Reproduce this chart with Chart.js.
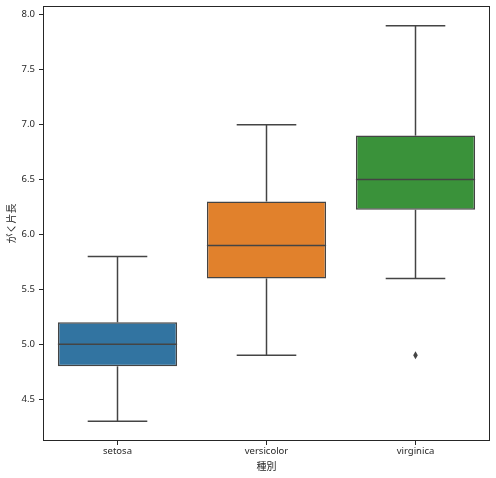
<!DOCTYPE html>
<html>
<head>
<meta charset="utf-8">
<script src="https://cdn.jsdelivr.net/npm/chart.js@4"></script>
<style>
  body { margin: 0; background: #fff; }
</style>
</head>
<body>
<canvas id="myChart" width="496" height="478"></canvas>
<script>
// iris のがく片長、種別ごとの箱ひげ図
const categories = ['setosa', 'versicolor', 'virginica'];
const q1Values = [4.8, 5.6, 6.225];
const medianValues = [5.0, 5.9, 6.5];
const q3Values = [5.2, 6.3, 6.9];
const lowWhiskers = [4.3, 4.9, 5.6];
const highWhiskers = [5.8, 7.0, 7.9];
const outliers = [[], [], [4.9]];
const boxColors = ['#3274a1', '#e1812c', '#3a923a'];
const yTicks = [4.5, 5.0, 5.5, 6.0, 6.5, 7.0, 7.5, 8.0];

const lineColor = '#444444';
const fontFamily = '"Noto Sans", "Noto Sans CJK JP", sans-serif';

// ひげ・中央値・外れ値を描くプラグイン
const boxPlugin = {
    id: 'boxParts',
    afterDatasetsDraw(chart) {
        const ctx = chart.ctx;
        const x = chart.scales.x;
        const y = chart.scales.y;
        const meta = chart.getDatasetMeta(0);
        ctx.save();
        ctx.strokeStyle = lineColor;
        ctx.lineWidth = 1.5;
        categories.forEach((c, i) => {
            const cx = x.getPixelForValue(i);
            const half = meta.data[i].width / 2;
            const capHalf = half / 2;
            const line = (x1, y1, x2, y2) => {
                ctx.beginPath();
                ctx.moveTo(x1, y1);
                ctx.lineTo(x2, y2);
                ctx.stroke();
            };
            // ひげ
            line(cx, y.getPixelForValue(q3Values[i]), cx, y.getPixelForValue(highWhiskers[i]));
            line(cx, y.getPixelForValue(q1Values[i]), cx, y.getPixelForValue(lowWhiskers[i]));
            line(cx - capHalf, y.getPixelForValue(highWhiskers[i]), cx + capHalf, y.getPixelForValue(highWhiskers[i]));
            line(cx - capHalf, y.getPixelForValue(lowWhiskers[i]), cx + capHalf, y.getPixelForValue(lowWhiskers[i]));
            // 中央値
            line(cx - half, y.getPixelForValue(medianValues[i]), cx + half, y.getPixelForValue(medianValues[i]));
            // 外れ値 (細いひし形)
            ctx.fillStyle = lineColor;
            outliers[i].forEach(v => {
                const py = y.getPixelForValue(v);
                ctx.beginPath();
                ctx.moveTo(cx, py - 4);
                ctx.lineTo(cx + 2.3, py);
                ctx.lineTo(cx, py + 4);
                ctx.lineTo(cx - 2.3, py);
                ctx.closePath();
                ctx.fill();
            });
        });
        ctx.restore();
    },
    afterDraw(chart) {// 枠線
        const a = chart.chartArea;
        const ctx = chart.ctx;
        ctx.save();
        ctx.strokeStyle = '#262626';
        ctx.lineWidth = 1;
        ctx.strokeRect(Math.round(a.left) + 0.5, Math.round(a.top) + 0.5,
            Math.round(a.right - a.left) - 1, Math.round(a.bottom - a.top) - 1);
        ctx.restore();
    }
};

let ctx = document.getElementById('myChart').getContext('2d');
let chart = new Chart(ctx, {
    type: 'bar',
    data: {
        labels: categories,
        datasets: [{
            data: categories.map((c, i) => [q1Values[i], q3Values[i]]),
            backgroundColor: boxColors,
            borderColor: lineColor,
            borderWidth: 1.5,
            borderSkipped: false,
            barPercentage: 0.8,
            categoryPercentage: 1.0
        }]
    },
    options: {
        responsive: false,
        animation: false,
        devicePixelRatio: 1,
        layout: { padding: { top: 6, right: 6, left: 0, bottom: 0 } },
        plugins: {
            legend: { display: false },
            tooltip: { enabled: false }
        },
        scales: {
            x: {
                grid: { offset: false, drawOnChartArea: false, drawTicks: true, tickLength: 4, color: '#262626' },
                border: { display: false },
                ticks: { color: '#262626', font: { family: fontFamily, size: 9.5 }, padding: 1 },
                title: {
                    display: true, text: '種別', color: '#262626',
                    font: { family: fontFamily, size: 10 }, padding: { top: 0, bottom: 5 }
                },
                afterFit(scale) {
                    scale.height = 37;
                    scale.paddingLeft = 0;
                    scale.paddingRight = 0;
                }
            },
            y: {
                min: 4.12,
                max: 8.08,
                grid: { drawOnChartArea: false, drawTicks: true, tickLength: 4, color: '#262626' },
                border: { display: false },
                afterBuildTicks(scale) { scale.ticks = yTicks.map(v => ({ value: v })); },
                ticks: {
                    color: '#262626', font: { family: fontFamily, size: 9.5 }, padding: 4,
                    callback: v => Number(v).toFixed(1)
                },
                title: {
                    display: true, text: 'がく片長', color: '#262626',
                    font: { family: fontFamily, size: 10 }, padding: { top: 6, bottom: 2 }
                },
                afterFit(scale) {
                    scale.width = 43;
                    scale.paddingTop = 0;
                    scale.paddingBottom = 0;
                }
            }
        }
    },
    plugins: [boxPlugin]
});
</script>
</body>
</html>
